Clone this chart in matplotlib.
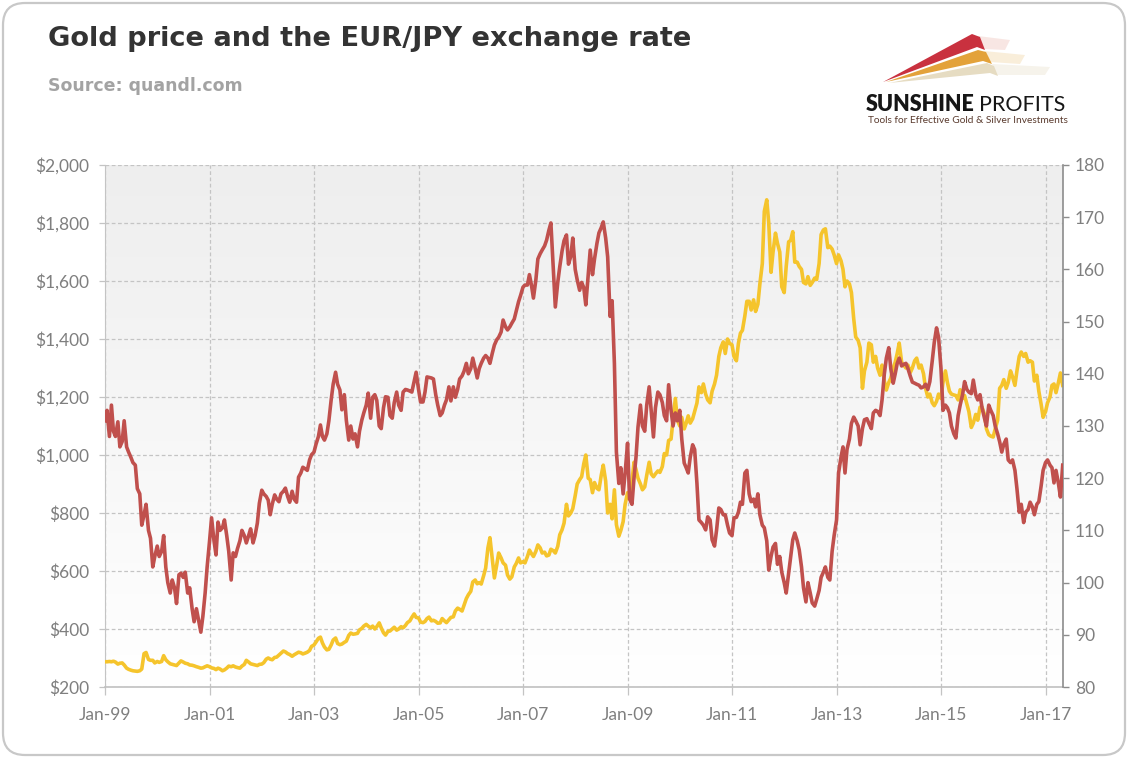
import numpy as np
import pandas as pd
import matplotlib
matplotlib.use("Agg")
import matplotlib.pyplot as plt
from matplotlib.patches import FancyBboxPatch, Polygon
from matplotlib.transforms import IdentityTransform
from matplotlib.colors import LinearSegmentedColormap

# ---------------- data (semi-monthly: 1st and 15th of each month) ----------------
r1999 = [131, 133, 128, 134, 129, 128, 130.8, 126, 127, 131, 126, 125, 124, 123, 122.5, 118, 117, 111, 113, 115, 110, 108.5, 103, 105]
r2000 = [107, 105, 106, 109, 103, 100, 98, 100.5, 99, 96, 101.5, 101.8, 101, 102, 98, 99, 95, 92.5, 95, 93, 90.5, 93.5, 98, 103]
r2001 = [108, 112.4, 108, 105.3, 111.6, 110, 110.5, 112, 109, 106, 100.5, 105.7, 105, 106.5, 108, 110, 109, 107.6, 109, 110.3, 107.6, 109, 111.4, 115.2]
r2002 = [117.7, 117, 116.5, 115.8, 113, 115, 116.8, 116, 115.5, 117, 117.5, 118.1, 116.5, 115.4, 117.5, 116, 115.4, 120.2, 121, 122.1, 121.8, 121.5, 123.5, 124.5]
r2003 = [125, 126.5, 128, 130.2, 128, 127.3, 128.5, 131, 135, 138, 140.3, 138, 136.9, 133.1, 136, 131.1, 127.3, 130, 127.5, 128.5, 126, 129, 131.1, 132.5]
r2004 = [134, 136.3, 131.5, 135.5, 136, 134.9, 130, 129.5, 133.5, 135.6, 135.5, 132, 131.5, 134.5, 136.5, 134, 133, 136.5, 137, 136.9, 136.7, 136.5, 138.5, 140.3]
r2005 = [137, 134.6, 134.6, 136.5, 139.4, 139.3, 139.2, 139, 136, 134, 132, 132.5, 134, 135, 137.5, 134.8, 137.5, 135.5, 137, 139, 139.6, 140.5, 142, 140]
r2006 = [141, 143, 141, 139.2, 141, 142, 143, 143.5, 143, 142, 144, 145.5, 146.5, 147, 148, 150.3, 149, 148.4, 149, 149.7, 150.5, 152, 153.8, 155]
r2007 = [156.6, 157, 157, 159, 157, 154.5, 158, 162, 163, 163.7, 164.5, 165.6, 167.5, 168.9, 160, 152.8, 157.5, 160.5, 163.5, 165.5, 166.6, 161, 162.5, 166]
r2008 = [160, 158, 156, 157.5, 156.5, 153.2, 159, 163.7, 159, 162, 165, 167, 168, 169.1, 166, 162.4, 151, 154, 142, 125, 119, 122, 117, 121]
r2009 = [126.7, 116, 115, 120, 124, 129.8, 134, 130, 129, 134, 137.5, 133, 127.9, 133.5, 136.5, 136, 134.5, 132, 131, 137.9, 133, 130, 132.5, 131]
r2010 = [133, 127.5, 122.9, 122, 121, 124, 126.4, 125.5, 119, 112, 111.5, 111, 110.1, 112.6, 112, 108.2, 107, 110, 114.3, 114, 113, 113, 111, 109.5]
r2011 = [109, 112.4, 112.5, 113.5, 115.4, 115, 121, 121.5, 117, 115.5, 116, 114.5, 117, 113, 111, 110.5, 108, 102.4, 105, 106.8, 107.5, 103.5, 105, 102]
r2012 = [100, 98, 101.8, 105, 108.2, 109.5, 108, 106.3, 103, 99, 96.3, 100, 98, 96.1, 95.5, 96.8, 98.5, 101, 102, 103, 101, 100.5, 106, 109]
r2013 = [112, 121, 124, 126, 121, 125.5, 127.5, 130.5, 131.7, 131, 130, 126.4, 129.5, 131.2, 131.4, 130.5, 129.5, 132.5, 133, 132.8, 132, 135, 140, 143]
r2014 = [145, 141, 138.2, 140, 142, 143, 141.5, 141.8, 142, 141, 139.5, 138.4, 138.2, 138, 137.8, 137.3, 137.5, 138, 137, 138.5, 142.5, 146, 148.8, 147]
r2015 = [141, 133, 134, 133.5, 132.5, 130, 128.5, 127.7, 132, 134, 136, 138.5, 137, 136.5, 136.2, 138.8, 136, 135, 136, 133.5, 131.5, 130, 134, 133]
r2016 = [132, 130, 128.5, 127, 125, 126.5, 127.5, 123.5, 123, 123.5, 121.5, 118, 113.5, 115, 111.5, 113.5, 114, 115.4, 114.5, 113, 115, 115.5, 118.5, 121.5]
r2017 = [123, 123.5, 122.5, 122, 119.1, 121.5, 119, 116.4, 122.5]

g1999 = [287, 287, 288, 287, 289, 286, 279, 282, 283, 276, 265, 261, 258, 256, 255, 254, 256, 262, 315, 319, 295, 292, 292, 283]
g2000 = [288, 285, 288, 308, 294, 287, 280, 278, 276, 274, 283, 290, 286, 282, 280, 276, 275, 273, 270, 268, 265, 266, 270, 273]
g2001 = [270, 266, 264, 260, 265, 262, 256, 259, 265, 272, 270, 273, 269, 267, 265, 272, 278, 292, 286, 280, 278, 276, 274, 278]
g2002 = [279, 284, 296, 300, 296, 294, 302, 303, 310, 316, 324, 321, 315, 312, 306, 311, 316, 320, 318, 314, 317, 320, 326, 340]
g2003 = [345, 355, 368, 372, 352, 338, 328, 330, 345, 362, 369, 350, 346, 348, 354, 358, 378, 386, 382, 383, 385, 397, 402, 410]
g2004 = [416, 410, 404, 410, 400, 408, 421, 404, 387, 379, 392, 393, 400, 406, 396, 400, 408, 404, 412, 422, 428, 440, 452, 440]
g2005 = [438, 424, 422, 426, 436, 441, 428, 430, 426, 420, 421, 436, 428, 422, 432, 440, 442, 462, 472, 468, 462, 482, 505, 518]
g2006 = [530, 562, 569, 556, 560, 555, 584, 610, 680, 715, 640, 576, 620, 662, 645, 628, 620, 586, 572, 580, 614, 626, 645, 628]
g2007 = [632, 628, 650, 672, 660, 650, 668, 690, 680, 662, 665, 652, 655, 675, 670, 662, 685, 725, 742, 765, 830, 790, 800, 815]
g2008 = [860, 900, 915, 925, 970, 1000, 920, 915, 870, 905, 885, 880, 930, 965, 910, 800, 830, 780, 880, 760, 720, 740, 770, 830]
g2009 = [870, 850, 910, 975, 950, 920, 900, 880, 890, 930, 975, 935, 925, 935, 945, 940, 960, 1005, 1000, 1050, 1055, 1120, 1195, 1120]
g2010 = [1100, 1130, 1090, 1110, 1135, 1110, 1125, 1150, 1179, 1235, 1215, 1245, 1210, 1190, 1180, 1220, 1245, 1275, 1340, 1370, 1390, 1350, 1400, 1385]
g2011 = [1380, 1340, 1325, 1385, 1420, 1430, 1480, 1530, 1530, 1500, 1535, 1495, 1520, 1590, 1660, 1840, 1880, 1800, 1630, 1700, 1765, 1730, 1700, 1580]
g2012 = [1560, 1650, 1735, 1740, 1770, 1665, 1665, 1650, 1640, 1595, 1590, 1615, 1585, 1595, 1610, 1605, 1660, 1760, 1776, 1780, 1715, 1720, 1710, 1690]
g2013 = [1660, 1690, 1670, 1640, 1580, 1600, 1590, 1560, 1470, 1407, 1395, 1370, 1230, 1290, 1320, 1386, 1380, 1320, 1340, 1300, 1275, 1310, 1255, 1224]
g2014 = [1250, 1265, 1300, 1320, 1350, 1386, 1320, 1310, 1300, 1310, 1285, 1300, 1325, 1334, 1300, 1310, 1280, 1230, 1200, 1210, 1180, 1170, 1185, 1210]
g2015 = [1195, 1250, 1290, 1250, 1220, 1210, 1207, 1205, 1190, 1225, 1195, 1205, 1175, 1150, 1095, 1110, 1140, 1120, 1165, 1165, 1140, 1090, 1070, 1065]
g2016 = [1062, 1090, 1120, 1230, 1240, 1260, 1230, 1250, 1290, 1270, 1240, 1290, 1340, 1355, 1340, 1350, 1320, 1325, 1320, 1255, 1275, 1220, 1175, 1130]
g2017 = [1150, 1180, 1200, 1240, 1245, 1215, 1250, 1283, 1240]

eurjpy = (r1999 + r2000 + r2001 + r2002 + r2003 + r2004 + r2005 + r2006 + r2007 + r2008 +
          r2009 + r2010 + r2011 + r2012 + r2013 + r2014 + r2015 + r2016 + r2017)
gold = (g1999 + g2000 + g2001 + g2002 + g2003 + g2004 + g2005 + g2006 + g2007 + g2008 +
        g2009 + g2010 + g2011 + g2012 + g2013 + g2014 + g2015 + g2016 + g2017)

dates_r = pd.date_range("1999-01-01", periods=len(eurjpy), freq="SMS")
dates_g = pd.date_range("1999-01-01", periods=len(gold), freq="SMS")

x_tick_years = list(range(1999, 2018, 2))
x_tick_labels = ["Jan-%02d" % (y % 100) for y in x_tick_years]
gold_ticks = list(range(200, 2001, 200))
gold_labels = ["${:,}".format(v) for v in gold_ticks]
fx_ticks = list(range(80, 181, 10))

title = "Gold price and the EUR/JPY exchange rate"
source = "Source: quandl.com"

# ---------------- figure ----------------
W, H = 1128, 758
fig = plt.figure(figsize=(W / 100, H / 100), dpi=100)
fig.patch.set_facecolor("white")
FONT = "Lato"
TFONT = "DejaVu Sans"

def px(x, y):
    return (x / W, 1 - y / H)

# outer rounded frame
frame = FancyBboxPatch((3, 3), W - 6, H - 6, boxstyle="round,pad=0,rounding_size=22",
                       transform=IdentityTransform(), fc="none", ec="#c8c8c8", lw=1.6)
fig.patches.append(frame)

L, R, T, B = 105, 1063, 165, 687
rect = [L / W, 1 - B / H, (R - L) / W, (B - T) / H]

# gradient background
bg = fig.add_axes(rect, zorder=0)
grad = np.linspace(0, 1, 256).reshape(-1, 1)
cmap = LinearSegmentedColormap.from_list("g", ["#eeeeee", "#ffffff"])
bg.imshow(grad, aspect="auto", cmap=cmap, extent=[0, 1, 0, 1], origin="upper")
bg.axis("off")

ax = fig.add_axes(rect, zorder=1)
ax.patch.set_visible(False)
ax.plot(dates_g, gold, color="#F5C42C", lw=2.6, solid_joinstyle="round", zorder=3)
ax.set_ylim(200, 2000)
ax.set_xlim(pd.Timestamp("1999-01-01"), pd.Timestamp("2017-05-03"))
ax.set_yticks(gold_ticks)
ax.set_yticklabels(gold_labels)
ax.set_xticks([pd.Timestamp("%d-01-01" % y) for y in x_tick_years])
ax.set_xticklabels(x_tick_labels)
ax.set_axisbelow(True)
ax.grid(True, color="#c4c4c4", lw=0.9, ls=(0, (3, 2)))
for s in ["top", "right"]:
    ax.spines[s].set_visible(False)
ax.spines["left"].set_color("#c4c4c4")
ax.spines["bottom"].set_color("#c0c0c0")
ax.spines["bottom"].set_linewidth(1.2)
ax.tick_params(axis="y", direction="out", length=4.5, color="#c4c4c4", width=0.9,
               labelcolor="#7f7f7f", labelsize=12.5, pad=7)
ax.tick_params(axis="x", direction="out", length=5.5, color="#c4c4c4", width=0.9,
               labelcolor="#7f7f7f", labelsize=12.5, pad=9)

ax2 = ax.twinx()
ax2.plot(dates_r, eurjpy, color="#C0504D", lw=2.6, solid_joinstyle="round", zorder=3)
ax2.set_ylim(80, 180)
ax2.set_yticks(fx_ticks)
ax2.set_xlim(pd.Timestamp("1999-01-01"), pd.Timestamp("2017-05-03"))
for s in ["top", "left", "bottom"]:
    ax2.spines[s].set_visible(False)
ax2.spines["right"].set_color("#8c8c8c")
ax2.spines["right"].set_linewidth(1.2)
ax2.tick_params(axis="y", direction="out", length=4.5, color="#8c8c8c", width=1.0,
                labelcolor="#7f7f7f", labelsize=12.5, pad=4)

for a in (ax, ax2):
    for lab in a.get_xticklabels() + a.get_yticklabels():
        lab.set_family(FONT)

# titles
fig.text(*px(48, 46), title, fontsize=19.6, fontweight="bold", color="#333333",
         family=TFONT, va="baseline", ha="left")
fig.text(*px(48, 91), source, fontsize=12.5, fontweight="bold", color="#a3a3a3",
         family=TFONT, va="baseline", ha="left")

# logo swooshes
def poly(pts, color, alpha=1.0):
    p = Polygon([(x, H - y) for x, y in pts], closed=True, transform=IdentityTransform(),
                fc=color, ec="none", alpha=alpha)
    fig.patches.append(p)

poly([(978, 36), (1010, 40), (1005, 50), (984, 49)], "#f6dcd8", 0.7)
poly([(984, 51), (1025, 55), (1020, 64), (990, 62)], "#f7e7cb", 0.7)
poly([(992, 64), (1050, 67), (1045, 75), (997, 75)], "#f4f0e6", 0.8)
poly([(883, 82), (972, 34), (980, 37), (985, 50), (977, 47)], "#c9313f")
poly([(886, 82), (978, 50), (986, 52), (992, 64), (983, 61)], "#e3a23a")
poly([(889, 83), (987, 63), (994, 66), (998, 76), (990, 73)], "#e6dcc2")

fig.text(*px(866, 111), "SUNSHINE", fontsize=15.5, fontweight="heavy", color="#161616",
         family=FONT, va="baseline", ha="left")
fig.text(*px(979, 111), "PROFITS", fontsize=15.5, fontweight="normal", color="#161616",
         family=FONT, va="baseline", ha="left")
fig.text(*px(868, 123), "Tools for Effective Gold & Silver Investments", fontsize=7.3,
         color="#5a3b2e", family=FONT, va="baseline", ha="left")

fig.savefig("out.png", dpi=100)
